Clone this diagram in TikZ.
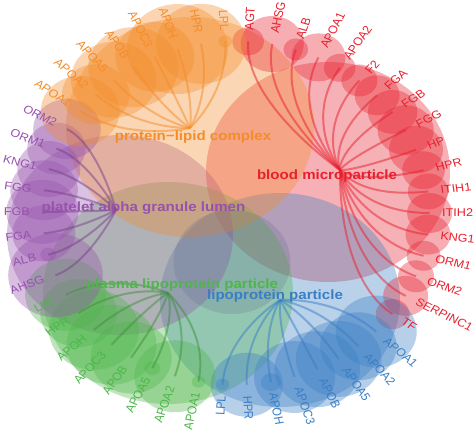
\documentclass[tikz,border=0pt]{standalone}
\usepackage{fontspec}
\setmainfont{Liberation Sans}
\usepackage{graphicx}
\definecolor{corange}{RGB}{244,140,42}
\definecolor{cred}{RGB}{232,32,46}
\definecolor{cpurple}{RGB}{150,82,172}
\definecolor{cgreen}{RGB}{78,182,74}
\definecolor{cblue}{RGB}{58,126,196}
\definecolor{cslate}{RGB}{90,100,140}
\tikzset{
  catdisc/.style={fill=#1, fill opacity=0.35},
  genedisc/.style={fill=#1, fill opacity=0.36},
  link/.style={draw=#1, draw opacity=0.5, line width=2},
  genelab/.style={text=#1, font=\fontsize{11.2}{13}\selectfont, inner sep=1pt, transform shape},
  hublab/.style={text=#1, font=\fontsize{13.4}{15}\selectfont\bfseries, inner sep=0pt},
}
\newcommand\gdiscs[4]{%
  \foreach \g/\rad [count=\k] in #4{%
    \pgfmathsetmacro\ang{#3-7.2*(\k-1)}%
    \fill[genedisc=#2] (\ang:172) circle[radius=\rad];
    \coordinate (#1\k) at (\ang:172);
  }}
\newcommand\glinks[6]{%
  \foreach \g/\rad [count=\k] in #6{%
    \pgfmathsetmacro\ang{#3-7.2*(\k-1)}%
    \coordinate (#1c\k) at (\ang:#5);
    \draw[link=#2] (#4) .. controls (#4) and (#1c\k) .. (#1\k);
  }}
\newcommand\glabels[4]{%
  \foreach \g/\rad [count=\k] in #4{%
    \pgfmathsetmacro\ang{#3-7.2*(\k-1)}%
    \pgfmathtruncatemacro\lft{cos(\ang)<0 ? 1 : 0}%
    \ifnum\lft=1
      \node[genelab=#2, rotate=\ang+180, anchor=east] (#1l\k) at (\ang:182) {\g};
    \else
      \node[genelab=#2, rotate=\ang, anchor=west] (#1l\k) at (\ang:182) {\g};
    \fi
  }}
\newcommand\redlist{AGT/14, AHSG/28, ALB/11, APOA1/24, APOA2/14, F2/16, FGA/20, FGB/22, FGG/25, HP/24, HPR/19, ITIH1/18, ITIH2/20, KNG1/20, ORM1/15, ORM2/16, SERPINC1/20, TF/15}
\newcommand\bluelist{APOA1/36, APOA2/34, APOA5/38, APOB/38, APOC3/36, APOH/9, HPR/32, LPL/6}
\newcommand\greenlist{APOA1/6, APOA2/36, APOA5/7, APOB/36, APOC3/40, APOH/40, HPR/34, LPL/36}
\newcommand\purplelist{AHSG/42, ALB/7, FGA/28, FGB/32, FGG/30, KNG1/28, ORM1/26, ORM2/30}
\newcommand\orangelist{APOA1/35, APOA2/30, APOA5/38, APOB/40, APOC3/35, APOH/45, HPR/40, LPL/6}
\begin{document}
\begin{tikzpicture}[x=1pt,y=1pt]
\useasboundingbox (0,0) rectangle (474,-434);
\fill[white] (0,0) rectangle (474,-434);
% category discs
\fill[catdisc=cred] (328,-172) ellipse[x radius=122, y radius=110];
\fill[catdisc=cblue] (280,-300) ellipse[x radius=120, y radius=107];
\fill[catdisc=cgreen] (168,-293) ellipse[x radius=125, y radius=111];
\fill[catdisc=cpurple] (120,-235) ellipse[x radius=113, y radius=100];
\fill[catdisc=corange] (190,-127) ellipse[x radius=124, y radius=110];
\fill[fill=cslate, fill opacity=0.22] (232,-262) ellipse[x radius=58.5, y radius=52];
% hubs
\coordinate (hubR) at (340,-170);
\coordinate (hubB) at (280,-300);
\coordinate (hubG) at (168,-293);
\coordinate (hubP) at (116,-210);
\coordinate (hubO) at (190,-128);
\begin{scope}[shift={(236,-213)}, xscale=1.1257]
  \gdiscs{r}{cred}{86.4}{\redlist}
  \gdiscs{b}{cblue}{-43.6}{\bluelist}
  \gdiscs{g}{cgreen}{-101.2}{\greenlist}
  \gdiscs{p}{cpurple}{-158.8}{\purplelist}
  \gdiscs{o}{corange}{-216.4}{\orangelist}
  \glinks{r}{cred}{86.4}{hubR}{110}{\redlist}
  \glinks{b}{cblue}{-43.6}{hubB}{120}{\bluelist}
  \glinks{g}{cgreen!80!black}{-101.2}{hubG}{120}{\greenlist}
  \glinks{p}{cpurple!80!black}{-158.8}{hubP}{140}{\purplelist}
  \glinks{o}{corange}{-216.4}{hubO}{120}{\orangelist}
  \glabels{r}{cred}{86.4}{\redlist}
  \glabels{b}{cblue}{-43.6}{\bluelist}
  \glabels{g}{cgreen}{-101.2}{\greenlist}
  \glabels{p}{cpurple}{-158.8}{\purplelist}
  \glabels{o}{corange}{-216.4}{\orangelist}
\end{scope}
% category labels
\node[hublab=corange] (tO) at (193,-137) {\scalebox{1.1257}[1]{protein−lipid complex}};
\node[hublab=cred] (tR) at (327,-176) {\scalebox{1.1257}[1]{blood microparticle}};
\node[hublab=cpurple] (tP) at (143.5,-208) {\scalebox{1.1257}[1]{platelet alpha granule lumen}};
\node[hublab=cgreen] (tG) at (182,-285) {\scalebox{1.1257}[1]{plasma lipoprotein particle}};
\node[hublab=cblue] (tB) at (275,-296) {\scalebox{1.1257}[1]{lipoprotein particle}};
\end{tikzpicture}
\end{document}
